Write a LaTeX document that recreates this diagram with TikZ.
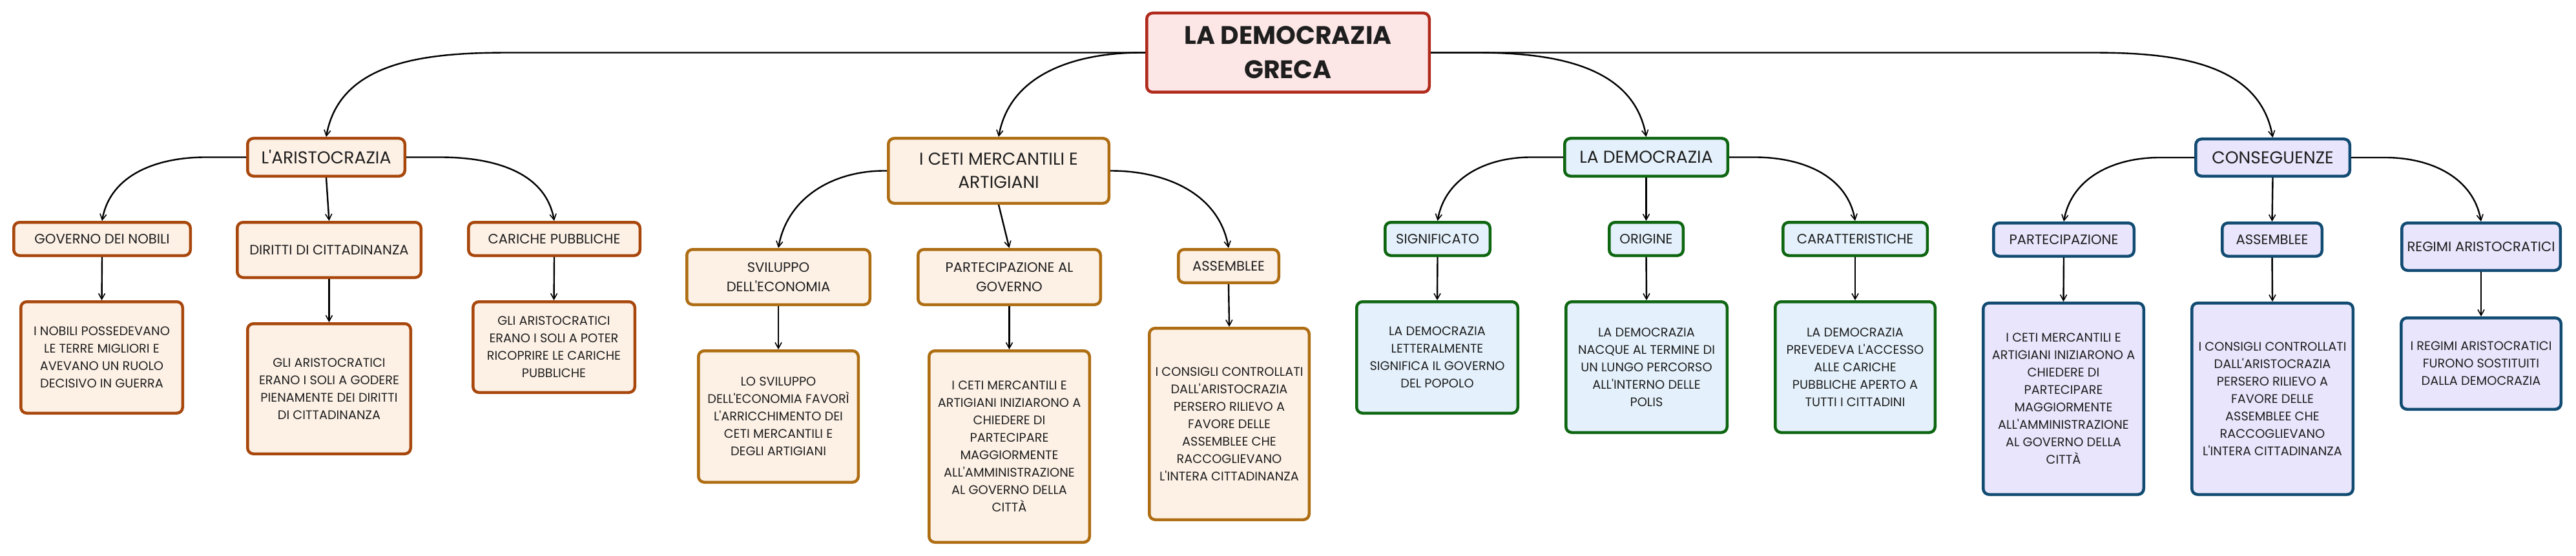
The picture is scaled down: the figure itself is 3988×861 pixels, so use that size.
\documentclass[tikz,border=0pt]{standalone}
\usepackage{fontspec}
\setmainfont{Poppins}[BoldFont=* Bold, Ligatures=TeXOff]
\usetikzlibrary{arrows.meta}
\definecolor{txt}{HTML}{1E1E1E}
\definecolor{rootF}{HTML}{FDE6E6}
\definecolor{rootD}{HTML}{B02A1B}
\definecolor{aF}{HTML}{FDF1E6}
\definecolor{aD}{HTML}{A8470C}
\definecolor{bF}{HTML}{FDF1E6}
\definecolor{bD}{HTML}{AE6D12}
\definecolor{cF}{HTML}{E4F1FC}
\definecolor{cD}{HTML}{0E6611}
\definecolor{dF}{HTML}{E8E5FC}
\definecolor{dD}{HTML}{114B72}
\newlength\calw
\newcommand\mkfs[3]{\settowidth\calw{\normalfont\fontsize{10}{12}\selectfont #2}\pgfmathsetmacro#1{10*#3/\calw}}
\tikzset{
  box/.style={rectangle, rounded corners=9pt, line width=4.5pt, inner sep=0pt, align=center, text=txt},
  rootbox/.style={box, draw=rootD, fill=rootF, font=\fontsize{\froot}{53}\selectfont\bfseries},
  lone/.style={font=\fontsize{\fone}{36}\selectfont},
  ltwo/.style={font=\fontsize{\ftwo}{30}\selectfont},
  lcont/.style={font=\fontsize{\fcont}{27}\selectfont},
  ga/.style={box, draw=aD, fill=aF},
  gb/.style={box, draw=bD, fill=bF},
  gc/.style={box, draw=cD, fill=cF},
  gd/.style={box, draw=dD, fill=dF},
  sz/.style n args={2}{minimum width=#1pt, minimum height=#2pt},
  conn/.style={line width=2.4pt, draw=black, -{Straight Barb[length=9pt,width=10pt,line width=1.6pt]}},
  curve/.style={conn, rounded corners=0pt}
}
\begin{document}%
\mkfs{\froot}{\bfseries LA DEMOCRAZIA}{321}%
\mkfs{\oa}{L'ARISTOCRAZIA}{198}%
\mkfs{\ob}{I CETI MERCANTILI E}{245}%
\mkfs{\oc}{LA DEMOCRAZIA}{205}%
\mkfs{\od}{CONSEGUENZE}{193}%
\pgfmathsetmacro\fone{(\oa+\ob+\oc+\od)/4}%
\mkfs{\ta}{REGIMI ARISTOCRATICI}{229}%
\mkfs{\tb}{GOVERNO DEI NOBILI}{223}%
\mkfs{\tc}{DIRITTI DI CITTADINANZA}{254}%
\mkfs{\td}{CARICHE PUBBLICHE}{216}%
\mkfs{\te}{CARATTERISTICHE}{181}%
\mkfs{\tf}{PARTECIPAZIONE AL}{207}%
\pgfmathsetmacro\ftwo{min(\ta,\tb,\tc,\td,\te,\tf)}%
\mkfs{\ca}{ALL'AMMINISTRAZIONE}{215}%
\mkfs{\cb}{I CONSIGLI CONTROLLATI}{233}%
\mkfs{\cc}{L'INTERA CITTADINANZA}{224}%
\mkfs{\cd}{ARTIGIANI INIZIARONO A}{229}%
\mkfs{\ce}{I REGIMI ARISTOCRATICI}{219}%
\mkfs{\cf}{DELL'ECONOMIA FAVORÌ}{229}%
\mkfs{\cg}{PREVEDEVA L'ACCESSO}{220}%
\pgfmathsetmacro\fcont{min(\ca,\cb,\cc,\cd,\ce,\cf,\cg)}%
\begin{tikzpicture}[x=1pt,y=1pt]
\useasboundingbox (0,0) rectangle (3988,-861);
% root
\node[rootbox, sz={437.5}{122.5}] (root) at (1994,-81.5) {LA DEMOCRAZIA\\GRECA};
% level 1
\node[ga, lone, sz={243.5}{58.5}] (ari) at (505,-243.5) {L'ARISTOCRAZIA};
\node[gb, lone, sz={341.5}{100.5}] (ceti) at (1546,-264.5) {I CETI MERCANTILI E\\ARTIGIANI};
\node[gc, lone, sz={252.5}{58.5}] (dem) at (2548.5,-243.5) {LA DEMOCRAZIA};
\node[gd, lone, sz={238.5}{57.5}] (cons) at (3518.5,-244) {CONSEGUENZE};
% level 2
\node[ga, ltwo, sz={273.5}{51.5}] (gov) at (158,-370) {GOVERNO DEI NOBILI};
\node[ga, ltwo, sz={284.5}{85.5}] (dir) at (509.5,-387) {DIRITTI DI CITTADINANZA};
\node[ga, ltwo, sz={265.5}{51.5}] (car) at (858,-370) {CARICHE PUBBLICHE};
\node[gb, ltwo, sz={283.5}{85.5}] (svi) at (1205,-429) {SVILUPPO\\DELL'ECONOMIA};
\node[gb, ltwo, sz={282.5}{85.5}] (par) at (1562.5,-429) {PARTECIPAZIONE AL\\GOVERNO};
\node[gb, ltwo, sz={155.5}{51.5}] (ass) at (1902,-412) {ASSEMBLEE};
\node[gc, ltwo, sz={162.5}{51.5}] (sig) at (2225.5,-370) {SIGNIFICATO};
\node[gc, ltwo, sz={114.5}{51.5}] (ori) at (2548.5,-370) {ORIGINE};
\node[gc, ltwo, sz={223.5}{51.5}] (cara) at (2872,-370) {CARATTERISTICHE};
\node[gd, ltwo, sz={217.5}{51.5}] (cpar) at (3195,-371) {PARTECIPAZIONE};
\node[gd, ltwo, sz={154.5}{51.5}] (cass) at (3517.5,-371) {ASSEMBLEE};
\node[gd, ltwo, sz={245.5}{73.5}] (reg) at (3841,-382) {REGIMI ARISTOCRATICI};
% content
\node[ga, lcont, sz={250.5}{172.5}] (nob) at (157.5,-553.5) {I NOBILI POSSEDEVANO\\LE TERRE MIGLIORI E\\AVEVANO UN RUOLO\\DECISIVO IN GUERRA};
\node[ga, lcont, sz={252.5}{201.5}] (dirc) at (509.5,-602) {GLI ARISTOCRATICI\\ERANO I SOLI A GODERE\\PIENAMENTE DEI DIRITTI\\DI CITTADINANZA};
\node[ga, lcont, sz={250.5}{140.5}] (carc) at (857.5,-537.5) {GLI ARISTOCRATICI\\ERANO I SOLI A POTER\\RICOPRIRE LE CARICHE\\PUBBLICHE};
\node[gb, lcont, sz={247.5}{203.5}] (svic) at (1205,-645) {LO SVILUPPO\\DELL'ECONOMIA FAVORÌ\\L'ARRICCHIMENTO DEI\\CETI MERCANTILI E\\DEGLI ARTIGIANI};
\node[gb, lcont, sz={248.5}{296.5}] (parc) at (1562.5,-691.5) {I CETI MERCANTILI E\\ARTIGIANI INIZIARONO A\\CHIEDERE DI\\PARTECIPARE\\MAGGIORMENTE\\ALL'AMMINISTRAZIONE\\AL GOVERNO DELLA\\CITTÀ};
\node[gb, lcont, sz={247.5}{296.5}] (assc) at (1903,-656.5) {I CONSIGLI CONTROLLATI\\DALL'ARISTOCRAZIA\\PERSERO RILIEVO A\\FAVORE DELLE\\ASSEMBLEE CHE\\RACCOGLIEVANO\\L'INTERA CITTADINANZA};
\node[gc, lcont, sz={249.5}{172.5}] (sigc) at (2225,-553.5) {LA DEMOCRAZIA\\LETTERALMENTE\\SIGNIFICA IL GOVERNO\\DEL POPOLO};
\node[gc, lcont, sz={249.5}{202.5}] (oric) at (2549,-568.5) {LA DEMOCRAZIA\\NACQUE AL TERMINE DI\\UN LUNGO PERCORSO\\ALL'INTERNO DELLE\\POLIS};
\node[gc, lcont, sz={247.5}{202.5}] (carac) at (2872,-568.5) {LA DEMOCRAZIA\\PREVEDEVA L'ACCESSO\\ALLE CARICHE\\PUBBLICHE APERTO A\\TUTTI I CITTADINI};
\node[gd, lcont, sz={248.5}{296.5}] (cparc) at (3194.5,-617.5) {I CETI MERCANTILI E\\ARTIGIANI INIZIARONO A\\CHIEDERE DI\\PARTECIPARE\\MAGGIORMENTE\\ALL'AMMINISTRAZIONE\\AL GOVERNO DELLA\\CITTÀ};
\node[gd, lcont, sz={249.5}{296.5}] (cassc) at (3518,-617.5) {I CONSIGLI CONTROLLATI\\DALL'ARISTOCRAZIA\\PERSERO RILIEVO A\\FAVORE DELLE\\ASSEMBLEE CHE\\RACCOGLIEVANO\\L'INTERA CITTADINANZA};
\node[gd, lcont, sz={247.5}{141.5}] (regc) at (3841,-563) {I REGIMI ARISTOCRATICI\\FURONO SOSTITUITI\\DALLA DEMOCRAZIA};
% bend coordinates
\coordinate (kari) at ([xshift=284pt]ari.north);
\coordinate (kceti) at ([xshift=221pt]ceti.north);
\coordinate (kdem) at ([xshift=-263pt]dem.north);
\coordinate (kcons) at ([xshift=-280pt]cons.north);
\coordinate (kgov) at ([xshift=160pt]gov.north);
\coordinate (kcar) at ([xshift=-176pt]car.north);
\coordinate (ksvi) at ([xshift=164pt]svi.north);
\coordinate (kass) at ([xshift=-182pt]ass.north);
\coordinate (ksig) at ([xshift=144pt]sig.north);
\coordinate (kcara) at ([xshift=-155pt]cara.north);
\coordinate (kcpar) at ([xshift=148pt]cpar.north);
\coordinate (kreg) at ([xshift=-148pt]reg.north);
% root connectors
\draw[curve] (root.west) -- (kari |- root.west) to[out=180,in=80] (ari.north);
\draw[curve] (root.west) -- (kceti |- root.west) to[out=180,in=80] (ceti.north);
\draw[curve] (root.east) -- (kdem |- root.east) to[out=0,in=100] (dem.north);
\draw[curve] (root.east) -- (kcons |- root.east) to[out=0,in=100] (cons.north);
% level 1 -> level 2
\draw[curve] (ari.west) -- (kgov |- ari.west) to[out=180,in=80] (gov.north);
\draw[conn] (ari.south) -- (dir.north);
\draw[curve] (ari.east) -- (kcar |- ari.east) to[out=0,in=100] (car.north);
\draw[curve] (ceti.west) -- (ksvi |- ceti.west) to[out=180,in=80] (svi.north);
\draw[conn] (ceti.south) -- (par.north);
\draw[curve] (ceti.east) -- (kass |- ceti.east) to[out=0,in=100] (ass.north);
\draw[curve] (dem.west) -- (ksig |- dem.west) to[out=180,in=80] (sig.north);
\draw[conn] (dem.south) -- (ori.north);
\draw[curve] (dem.east) -- (kcara |- dem.east) to[out=0,in=100] (cara.north);
\draw[curve] (cons.west) -- (kcpar |- cons.west) to[out=180,in=80] (cpar.north);
\draw[conn] (cons.south) -- (cass.north);
\draw[curve] (cons.east) -- (kreg |- cons.east) to[out=0,in=100] (reg.north);
% level 2 -> content
\draw[conn] (gov.south) -- (nob.north);
\draw[conn] (dir.south) -- (dirc.north);
\draw[conn] (car.south) -- (carc.north);
\draw[conn] (svi.south) -- (svic.north);
\draw[conn] (par.south) -- (parc.north);
\draw[conn] (ass.south) -- (assc.north);
\draw[conn] (sig.south) -- (sigc.north);
\draw[conn] (ori.south) -- (oric.north);
\draw[conn] (cara.south) -- (carac.north);
\draw[conn] (cpar.south) -- (cparc.north);
\draw[conn] (cass.south) -- (cassc.north);
\draw[conn] (reg.south) -- (regc.north);
\end{tikzpicture}
\end{document}
